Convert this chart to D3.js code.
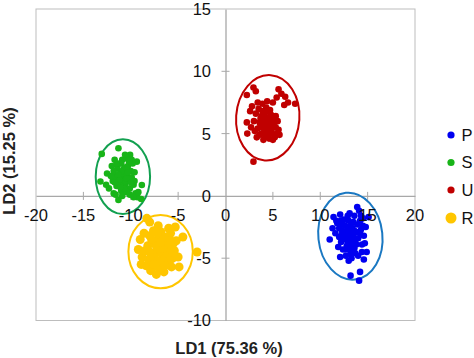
<!DOCTYPE html>
<html><head><meta charset="utf-8">
<script src="https://cdn.jsdelivr.net/npm/d3@7"></script>
<style>body{margin:0;background:#fff}svg{display:block}</style>
</head><body>
<svg id="c" width="474" height="358"></svg>
<script>
const groups = ["P", "S", "U", "R"];
const groupColors = ["#0000f0", "#18b418", "#c00000", "#ffc600"];
const ellipseColors = ["#1a78c2", "#12a050", "#c00000", "#ffc600"];
const xTicks = [-20, -15, -10, -5, 0, 5, 10, 15, 20];
const yTicks = [-10, -5, 0, 5, 10, 15];
const xTitle = "LD1 (75.36 %)";
const yTitle = "LD2 (15.25 %)";

const pointsP = [[11.0,-3.5],[11.4,-1.7],[11.8,-2.2],[12.1,-1.5],[12.3,-2.8],[12.5,-1.9],[12.7,-3.3],[12.9,-2.5],[13.1,-1.4],[13.3,-3.0],[13.5,-2.1],[13.7,-3.6],[13.9,-0.9],[14.1,-1.2],[14.3,-2.7],[14.5,-1.8],[15.1,-1.7],[14.9,-4.5],[14.6,-5.1],[14.2,-6.1],[14.1,-6.8],[13.2,-6.4],[12.1,-4.9],[11.6,-3.0],[11.9,-4.1],[12.2,-3.7],[12.4,-4.3],[12.6,-2.4],[12.8,-4.0],[13.0,-3.8],[13.2,-4.6],[13.4,-2.6],[13.6,-4.2],[13.8,-2.9],[14.0,-3.4],[14.2,-2.0],[14.4,-3.9],[14.6,-3.2],[14.8,-2.5],[12.0,-2.6],[12.5,-3.5],[13.0,-2.0],[13.5,-3.2],[14.0,-4.8],[13.3,-5.0],[12.7,-4.8],[11.7,-2.0],[12.9,-1.6],[13.6,-1.6],[14.7,-3.8],[12.3,-3.1],[13.9,-2.3],[11.3,-2.6],[13.1,-4.3],[14.4,-4.5],
  [12.6,-2.9],[12.8,-3.1],[13.0,-2.7],[13.2,-3.4],[13.4,-3.7],[12.9,-3.6],[13.6,-2.8],[13.3,-2.2],[12.4,-2.3],[13.8,-3.9],[14.2,-3.0],[12.7,-4.3],[13.1,-3.0],[13.7,-4.6],[12.2,-2.0],[14.3,-1.6],[13.4,-4.0],[12.0,-3.3],[14.5,-2.4],[13.0,-5.2]];
const pointsS = [[-13.06,3.37],[-11.3,3.83],[-10.07,3.29],[-9.36,2.75],[-8.83,0.88],[-8.9,-0.25],[-11.3,-0.32],[-13.2,1.15],[-12.5,1.8],[-12.3,0.6],[-12.0,2.4],[-11.9,1.2],[-11.8,0.2],[-11.7,2.9],[-11.6,1.6],[-11.5,0.8],[-11.4,2.2],[-11.3,1.0],[-11.2,2.6],[-11.1,1.9],[-11.0,0.4],[-10.9,2.9],[-10.8,1.4],[-10.7,2.2],[-10.6,0.9],[-10.5,1.7],[-10.4,3.0],[-10.3,2.4],[-10.2,1.2],[-10.1,0.6],[-10.0,2.0],[-9.9,1.5],[-9.8,2.6],[-9.7,0.9],[-9.6,1.9],[-9.5,0.2],[-9.3,-0.1],[-10.9,0.0],[-11.6,0.1],[-12.1,1.6],[-10.6,3.3],[-11.0,2.6],[-10.4,0.3],[-9.9,2.9],[-11.4,1.5],[-10.7,1.0],[-12.6,0.9],[-11.8,2.0],[-10.2,2.8],[-9.6,1.2],
  [-11.0,1.5],[-10.8,1.8],[-10.6,1.2],[-11.2,1.3],[-10.9,2.0],[-11.3,1.7],[-10.5,2.3],[-10.7,0.6],[-10.1,0.1],[-9.7,-0.1],[-9.2,0.3],[-11.5,2.6],[-11.1,0.7],[-10.4,1.4],[-10.3,1.9],[-11.7,1.1],[-10.0,1.1]];
const pointsU = [[2.95,2.75],[2.25,8.1],[2.95,8.7],[3.2,8.4],[5.6,8.55],[6.3,7.96],[7.35,7.4],[6.2,7.3],[5.4,7.9],[5.9,8.2],[6.6,7.5],[2.25,5.9],[2.3,5.0],[2.6,6.8],[2.8,7.2],[3.0,6.0],[3.2,6.6],[3.4,5.4],[3.5,7.0],[3.7,6.2],[3.8,5.0],[3.9,7.4],[4.0,5.8],[4.1,6.6],[4.2,4.8],[4.3,7.1],[4.4,5.5],[4.5,6.3],[4.6,4.6],[4.7,6.9],[4.8,5.2],[4.9,6.0],[5.0,7.5],[5.1,5.6],[5.2,4.7],[5.3,6.4],[5.4,5.0],[5.5,6.0],[3.3,4.7],[3.6,4.9],[4.0,4.5],[4.5,4.9],[5.0,4.5],[4.2,6.0],[4.6,5.8],[3.9,6.8],[4.8,6.5],[3.4,7.5],[4.4,7.6],[5.6,5.3],[2.7,5.5],[3.1,5.2],[5.7,4.9],[4.1,5.3],[3.6,5.9],
  [4.3,6.2],[4.5,5.6],[4.7,6.1],[4.1,5.7],[4.9,5.4],[3.8,6.4],[5.2,6.2],[4.4,6.8],[4.6,5.2],[5.0,5.8],[3.9,5.5],[4.8,5.0],[4.2,5.1],[5.3,5.5],[3.7,5.6],[4.0,6.3]];
const pointsR = [[-8.3,-1.8],[-8.0,-2.1],[-5.3,-2.5],[-4.5,-3.3],[-3.0,-4.5],[-9.2,-4.3],[-9.0,-3.5],[-8.8,-4.9],[-8.6,-3.0],[-8.4,-5.6],[-8.2,-4.0],[-8.0,-3.2],[-7.8,-5.2],[-7.6,-2.8],[-7.4,-4.5],[-7.2,-3.6],[-7.0,-5.8],[-6.8,-2.9],[-6.6,-4.8],[-6.4,-3.4],[-6.2,-5.4],[-6.0,-4.1],[-5.8,-3.0],[-5.6,-5.0],[-5.4,-4.4],[-5.2,-3.6],[-5.0,-4.9],[-7.9,-6.0],[-7.3,-6.3],[-6.5,-6.1],[-5.7,-5.7],[-8.9,-5.5],[-7.0,-4.2],[-6.3,-3.9],[-7.6,-3.8],[-6.9,-3.2],[-7.7,-4.7],[-6.1,-4.6],[-5.5,-3.8],[-8.5,-4.4],[-6.8,-5.3],[-7.4,-5.6],[-6.0,-2.6],[-7.1,-2.4],[-4.9,-5.7],[-8.1,-5.1],
  [-7.0,-4.5],[-7.3,-4.0],[-6.6,-4.2],[-6.8,-3.7],[-7.5,-4.9],[-6.3,-4.9],[-7.1,-5.2],[-6.5,-3.3],[-7.8,-3.5],[-5.9,-5.2],[-8.0,-4.5],[-7.2,-3.0],[-5.8,-3.6],[-6.4,-5.6],[-7.6,-5.5]];
// ellipse centre x, centre y, radius x, radius y, rotation (deg) in data units
const ellipseP = [13.18, -3.23, 3.38, 3.5, -6];
const ellipseS = [-10.83, 1.54, 2.87, 3.0, 0];
const ellipseU = [4.46, 6.27, 3.34, 3.43, 4];
const ellipseR = [-6.85, -4.47, 3.4, 2.94, 0];

const series = [
  {name: "P", pts: pointsP, ell: ellipseP, r: 3.3},
  {name: "S", pts: pointsS, ell: ellipseS, r: 3.3},
  {name: "U", pts: pointsU, ell: ellipseU, r: 3.3},
  {name: "R", pts: pointsR, ell: ellipseR, r: 4.5}
];

const svg = d3.select("#c");
svg.append("rect").attr("width", 474).attr("height", 358).attr("fill", "#fff");
const pLeft = 36, pRight = 415, pTop = 9, pBottom = 320.5;
const x = d3.scaleLinear().domain([-20, 20]).range([pLeft, pRight]);
const y = d3.scaleLinear().domain([-10, 15]).range([pBottom, pTop]);
const font = "'Liberation Sans', Arial, sans-serif";

svg.append("rect").attr("x", pLeft).attr("y", pTop).attr("width", pRight - pLeft).attr("height", pBottom - pTop)
  .attr("fill", "none").attr("stroke", "#bdbdbd").attr("stroke-width", 1);

const axisColor = "#a8a8a8";
const xAxis = svg.append("g").attr("transform", `translate(0,${y(0)})`)
  .call(d3.axisBottom(x).tickValues(xTicks).tickSize(0).tickFormat(""));
xAxis.select(".domain").attr("stroke", axisColor).attr("stroke-width", 1.3);
const yAxis = svg.append("g").attr("transform", `translate(${x(0)},0)`)
  .call(d3.axisLeft(y).tickValues(yTicks).tickSize(0).tickFormat(""));
yAxis.select(".domain").attr("stroke", axisColor).attr("stroke-width", 1.3);

// crossing tick marks
svg.append("g").selectAll("line").data(xTicks.filter(d => Math.abs(d) < 20 && d !== 0)).join("line")
  .attr("x1", d => x(d)).attr("x2", d => x(d)).attr("y1", y(0) - 4).attr("y2", y(0) + 4)
  .attr("stroke", axisColor).attr("stroke-width", 1);
svg.append("g").selectAll("line").data(yTicks.filter(d => d > -10 && d < 15 && d !== 0)).join("line")
  .attr("y1", d => y(d)).attr("y2", d => y(d)).attr("x1", x(0) - 4).attr("x2", x(0) + 4)
  .attr("stroke", axisColor).attr("stroke-width", 1);

// ellipses
series.forEach((s, i) => {
  const [cx, cy, rx, ry, rot] = s.ell;
  svg.append("ellipse")
    .attr("transform", `translate(${x(cx)},${y(cy)}) rotate(${rot})`)
    .attr("rx", x(rx) - x(0)).attr("ry", y(0) - y(ry))
    .attr("fill", "none").attr("stroke", ellipseColors[i]).attr("stroke-width", 2);
});
// points
series.forEach((s, i) => {
  svg.append("g").selectAll("circle").data(s.pts).join("circle")
    .attr("cx", d => x(d[0])).attr("cy", d => y(d[1])).attr("r", s.r)
    .attr("fill", groupColors[i]);
});

// tick labels
svg.append("g").selectAll("text").data(xTicks).join("text")
  .attr("x", d => x(d)).attr("y", y(0) + 25).attr("text-anchor", "middle")
  .attr("font-family", font).attr("font-size", 16.5).attr("fill", "#111").text(d => d);
svg.append("g").selectAll("text").data(yTicks).join("text")
  .attr("x", x(0) - 14.5).attr("y", d => y(d)).attr("dy", "0.36em").attr("text-anchor", "end")
  .attr("font-family", font).attr("font-size", 16.5).attr("fill", "#111").text(d => d);

// titles
svg.append("text").attr("x", 229).attr("y", 354).attr("text-anchor", "middle")
  .attr("font-family", font).attr("font-weight", "bold").attr("font-size", 16.5).attr("fill", "#222").text(xTitle);
svg.append("text").attr("transform", "translate(15,161) rotate(-90)").attr("text-anchor", "middle")
  .attr("font-family", font).attr("font-weight", "bold").attr("font-size", 16.5).attr("fill", "#222").text(yTitle);

// legend
const legY = [135, 162.5, 190, 218];
groups.forEach((g, i) => {
  svg.append("circle").attr("cx", 451).attr("cy", legY[i]).attr("r", g === "R" ? 5.5 : 3.6).attr("fill", groupColors[i]);
  svg.append("text").attr("x", 461.5).attr("y", legY[i]).attr("dy", "0.36em")
    .attr("font-family", font).attr("font-size", 16.5).attr("fill", "#111").text(g);
});
</script>
</body></html>
